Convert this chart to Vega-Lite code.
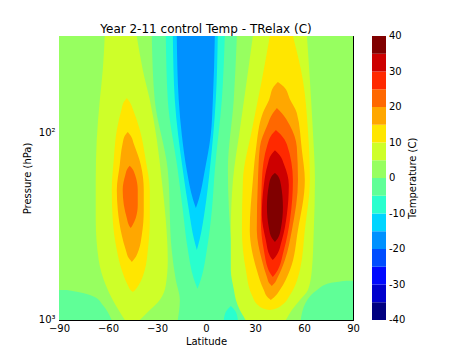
{
"$schema": "https://vega.github.io/schema/vega-lite/v6.json",
"width": 294, "height": 284,
"autosize": {"type": "none"},
"padding": {"left": 59, "top": 36, "right": 121, "bottom": 35},
"title": {"text": "Year 2-11 control Temp - TRelax (C)", "fontSize": 12, "fontWeight": "normal", "font": "DejaVu Sans", "color": "black", "anchor": "middle", "baseline": "alphabetic", "offset": -27},
"datasets": {"c": [
{"g":0,"r":0,"t":2.5,"p":30,"a":-90,"b":90},
{"g":0,"r":0,"t":2.5,"p":1000,"a":-90,"b":90},

{"g":1,"r":1,"t":-2.5,"p":30,"a":-33.2,"b":18.9},
{"g":1,"r":1,"t":-2.5,"p":66,"a":-31.4,"b":17.0},
{"g":1,"r":1,"t":-2.5,"p":157,"a":-23.4,"b":13.4},
{"g":1,"r":1,"t":-2.5,"p":421,"a":-21.0,"b":15.8},
{"g":1,"r":1,"t":-2.5,"p":610,"a":-18.5,"b":17.7},
{"g":1,"r":1,"t":-2.5,"p":781,"a":-16.0,"b":20.7},
{"g":1,"r":1,"t":-2.5,"p":1000,"a":-17.3,"b":23.8},
{"g":1,"r":5,"t":-2.5,"p":690,"a":-90,"b":-85.2},
{"g":1,"r":5,"t":-2.5,"p":716,"a":-90,"b":-75.4},
{"g":1,"r":5,"t":-2.5,"p":752,"a":-90,"b":-68.2},
{"g":1,"r":5,"t":-2.5,"p":831,"a":-90,"b":-63.2},
{"g":1,"r":5,"t":-2.5,"p":1000,"a":-90,"b":-57.7},
{"g":1,"r":6,"t":-2.5,"p":615,"a":86,"b":90},
{"g":1,"r":6,"t":-2.5,"p":633,"a":76,"b":90},
{"g":1,"r":6,"t":-2.5,"p":690,"a":68,"b":90},
{"g":1,"r":6,"t":-2.5,"p":781,"a":62,"b":90},
{"g":1,"r":6,"t":-2.5,"p":1000,"a":58,"b":90},
{"g":1,"r":2,"t":-7.5,"p":30,"a":-24.6,"b":11.5},
{"g":1,"r":2,"t":-7.5,"p":66,"a":-23.4,"b":9.7},
{"g":1,"r":2,"t":-7.5,"p":157,"a":-17.3,"b":5.4},
{"g":1,"r":2,"t":-7.5,"p":257,"a":-14.2,"b":3.6},
{"g":1,"r":2,"t":-7.5,"p":421,"a":-11.1,"b":0.5},
{"g":1,"r":2,"t":-7.5,"p":600,"a":-7.5,"b":-3.0},
{"g":1,"r":2,"t":-7.5,"p":680,"a":-5.2,"b":-5.2},
{"g":1,"r":7,"t":-7.5,"p":840,"a":15.2,"b":15.2},
{"g":1,"r":7,"t":-7.5,"p":906,"a":12.1,"b":18.3},
{"g":1,"r":7,"t":-7.5,"p":1000,"a":10.9,"b":19.5},
{"g":1,"r":3,"t":-12.5,"p":30,"a":-20.3,"b":7.2},
{"g":1,"r":3,"t":-12.5,"p":66,"a":-19.1,"b":6.0},
{"g":1,"r":3,"t":-12.5,"p":157,"a":-14.2,"b":2.3},
{"g":1,"r":3,"t":-12.5,"p":257,"a":-10.5,"b":-0.7},
{"g":1,"r":3,"t":-12.5,"p":370,"a":-7.3,"b":-3.9},
{"g":1,"r":3,"t":-12.5,"p":421,"a":-5.6,"b":-5.6},
{"g":1,"r":4,"t":-17.5,"p":30,"a":-17.9,"b":5.4},
{"g":1,"r":4,"t":-17.5,"p":66,"a":-16.7,"b":4.2},
{"g":1,"r":4,"t":-17.5,"p":102,"a":-14.8,"b":2.9},
{"g":1,"r":4,"t":-17.5,"p":157,"a":-11.8,"b":-0.7},
{"g":1,"r":4,"t":-17.5,"p":225,"a":-8.0,"b":-4.4},
{"g":1,"r":4,"t":-17.5,"p":251,"a":-6.2,"b":-6.2},

{"g":2,"r":10,"t":7.5,"p":30,"a":-62.0,"b":-42.4},
{"g":2,"r":10,"t":7.5,"p":45.6,"a":-63.2,"b":-38.7},
{"g":2,"r":10,"t":7.5,"p":66,"a":-65.0,"b":-34.4},
{"g":2,"r":10,"t":7.5,"p":108,"a":-66.9,"b":-30.1},
{"g":2,"r":10,"t":7.5,"p":178,"a":-67.5,"b":-27.1},
{"g":2,"r":10,"t":7.5,"p":291,"a":-67.5,"b":-24.6},
{"g":2,"r":10,"t":7.5,"p":477,"a":-65.7,"b":-23.4},
{"g":2,"r":10,"t":7.5,"p":649,"a":-61.4,"b":-24.6},
{"g":2,"r":10,"t":7.5,"p":781,"a":-57.1,"b":-28.3},
{"g":2,"r":10,"t":7.5,"p":906,"a":-52.8,"b":-35.6},
{"g":2,"r":10,"t":7.5,"p":1000,"a":-49.7,"b":-40.5},
{"g":2,"r":11,"t":12.5,"p":64.5,"a":-48.5,"b":-48.5},
{"g":2,"r":11,"t":12.5,"p":68,"a":-50.4,"b":-46.6},
{"g":2,"r":11,"t":12.5,"p":74.8,"a":-51.8,"b":-44.6},
{"g":2,"r":11,"t":12.5,"p":95.8,"a":-54.6,"b":-40.5},
{"g":2,"r":11,"t":12.5,"p":139,"a":-56.5,"b":-36.9},
{"g":2,"r":11,"t":12.5,"p":201,"a":-57.7,"b":-34.4},
{"g":2,"r":11,"t":12.5,"p":291,"a":-57.1,"b":-34.4},
{"g":2,"r":11,"t":12.5,"p":421,"a":-54.6,"b":-35.6},
{"g":2,"r":11,"t":12.5,"p":539,"a":-51.6,"b":-37.5},
{"g":2,"r":11,"t":12.5,"p":649,"a":-47.9,"b":-41.2},
{"g":2,"r":11,"t":12.5,"p":690,"a":-46.2,"b":-43.4},
{"g":2,"r":11,"t":12.5,"p":708,"a":-44.8,"b":-44.8},
{"g":2,"r":12,"t":17.5,"p":98,"a":-47.9,"b":-47.9},
{"g":2,"r":12,"t":17.5,"p":103,"a":-49.8,"b":-46.0},
{"g":2,"r":12,"t":17.5,"p":115,"a":-51.2,"b":-44.0},
{"g":2,"r":12,"t":17.5,"p":147.5,"a":-52.8,"b":-39.9},
{"g":2,"r":12,"t":17.5,"p":201,"a":-54.6,"b":-38.1},
{"g":2,"r":12,"t":17.5,"p":257,"a":-54.0,"b":-38.1},
{"g":2,"r":12,"t":17.5,"p":350,"a":-51.6,"b":-39.3},
{"g":2,"r":12,"t":17.5,"p":421,"a":-49.1,"b":-41.2},
{"g":2,"r":12,"t":17.5,"p":470,"a":-47.0,"b":-43.8},
{"g":2,"r":12,"t":17.5,"p":488,"a":-45.4,"b":-45.4},
{"g":2,"r":13,"t":22.5,"p":149,"a":-46.7,"b":-46.7},
{"g":2,"r":13,"t":22.5,"p":155,"a":-48.2,"b":-45.0},
{"g":2,"r":13,"t":22.5,"p":167,"a":-49.4,"b":-43.4},
{"g":2,"r":13,"t":22.5,"p":201,"a":-51.0,"b":-41.8},
{"g":2,"r":13,"t":22.5,"p":242,"a":-50.3,"b":-41.8},
{"g":2,"r":13,"t":22.5,"p":284,"a":-48.5,"b":-43.0},
{"g":2,"r":13,"t":22.5,"p":310,"a":-47.2,"b":-45.0},
{"g":2,"r":13,"t":22.5,"p":321,"a":-46.1,"b":-46.1},

{"g":3,"r":20,"t":7.5,"p":30,"a":28.7,"b":61.8},
{"g":3,"r":20,"t":7.5,"p":51.7,"a":25.0,"b":63.6},
{"g":3,"r":20,"t":7.5,"p":95.8,"a":20.7,"b":65.4},
{"g":3,"r":20,"t":7.5,"p":178,"a":16.5,"b":66.7},
{"g":3,"r":20,"t":7.5,"p":329,"a":15.2,"b":66.0},
{"g":3,"r":20,"t":7.5,"p":539,"a":15.2,"b":64.8},
{"g":3,"r":20,"t":7.5,"p":690,"a":17.1,"b":62.4},
{"g":3,"r":20,"t":7.5,"p":781,"a":18.3,"b":57.5},
{"g":3,"r":20,"t":7.5,"p":884,"a":20.7,"b":52.6},
{"g":3,"r":20,"t":7.5,"p":1000,"a":24.4,"b":48.9},
{"g":3,"r":21,"t":12.5,"p":30,"a":39.1,"b":53.2},
{"g":3,"r":21,"t":12.5,"p":51.7,"a":34.2,"b":59.3},
{"g":3,"r":21,"t":12.5,"p":95.8,"a":28.1,"b":62.4},
{"g":3,"r":21,"t":12.5,"p":178,"a":22.6,"b":63.6},
{"g":3,"r":21,"t":12.5,"p":329,"a":22.0,"b":60.5},
{"g":3,"r":21,"t":12.5,"p":539,"a":24.4,"b":57.5},
{"g":3,"r":21,"t":12.5,"p":734,"a":28.1,"b":51.4},
{"g":3,"r":21,"t":12.5,"p":831,"a":31.8,"b":46.5},
{"g":3,"r":21,"t":12.5,"p":870,"a":35.5,"b":42.5},
{"g":3,"r":21,"t":12.5,"p":884,"a":39.1,"b":39.1},
{"g":3,"r":22,"t":17.5,"p":52.9,"a":44.0,"b":44.0},
{"g":3,"r":22,"t":17.5,"p":56,"a":41.5,"b":47.5},
{"g":3,"r":22,"t":17.5,"p":66.1,"a":38.6,"b":51.6},
{"g":3,"r":22,"t":17.5,"p":77.6,"a":34.8,"b":55.6},
{"g":3,"r":22,"t":17.5,"p":123,"a":30.5,"b":58.7},
{"g":3,"r":22,"t":17.5,"p":178,"a":28.7,"b":60.5},
{"g":3,"r":22,"t":17.5,"p":329,"a":26.8,"b":56.3},
{"g":3,"r":22,"t":17.5,"p":539,"a":31.1,"b":51.4},
{"g":3,"r":22,"t":17.5,"p":690,"a":35.4,"b":45.2},
{"g":3,"r":22,"t":17.5,"p":760,"a":38.0,"b":41.4},
{"g":3,"r":22,"t":17.5,"p":781,"a":39.7,"b":39.7},
{"g":3,"r":23,"t":22.5,"p":73,"a":43.4,"b":43.4},
{"g":3,"r":23,"t":22.5,"p":78,"a":40.8,"b":46.6},
{"g":3,"r":23,"t":22.5,"p":90,"a":37.6,"b":51.2},
{"g":3,"r":23,"t":22.5,"p":118,"a":33.0,"b":55.6},
{"g":3,"r":23,"t":22.5,"p":178,"a":31.8,"b":56.3},
{"g":3,"r":23,"t":22.5,"p":329,"a":31.1,"b":52.6},
{"g":3,"r":23,"t":22.5,"p":477,"a":34.2,"b":48.3},
{"g":3,"r":23,"t":22.5,"p":588,"a":37.3,"b":44.0},
{"g":3,"r":23,"t":22.5,"p":640,"a":39.0,"b":41.6},
{"g":3,"r":23,"t":22.5,"p":657,"a":40.3,"b":40.3},
{"g":3,"r":24,"t":27.5,"p":95.8,"a":42.8,"b":42.8},
{"g":3,"r":24,"t":27.5,"p":101,"a":40.4,"b":45.6},
{"g":3,"r":24,"t":27.5,"p":115,"a":37.6,"b":49.6},
{"g":3,"r":24,"t":27.5,"p":178,"a":34.2,"b":53.2},
{"g":3,"r":24,"t":27.5,"p":291,"a":33.6,"b":51.4},
{"g":3,"r":24,"t":27.5,"p":421,"a":35.4,"b":47.7},
{"g":3,"r":24,"t":27.5,"p":560,"a":39.2,"b":42.8},
{"g":3,"r":24,"t":27.5,"p":588,"a":40.9,"b":40.9},
{"g":3,"r":25,"t":32.5,"p":123,"a":42.2,"b":42.2},
{"g":3,"r":25,"t":32.5,"p":130,"a":39.9,"b":44.9},
{"g":3,"r":25,"t":32.5,"p":147.5,"a":37.7,"b":47.9},
{"g":3,"r":25,"t":32.5,"p":189,"a":35.4,"b":50.7},
{"g":3,"r":25,"t":32.5,"p":273,"a":34.2,"b":49.5},
{"g":3,"r":25,"t":32.5,"p":372,"a":36.6,"b":46.5},
{"g":3,"r":25,"t":32.5,"p":455,"a":39.2,"b":42.8},
{"g":3,"r":25,"t":32.5,"p":477,"a":40.9,"b":40.9},
{"g":3,"r":26,"t":37.5,"p":163,"a":42.2,"b":42.2},
{"g":3,"r":26,"t":37.5,"p":170,"a":40.1,"b":44.3},
{"g":3,"r":26,"t":37.5,"p":189,"a":38.5,"b":45.9},
{"g":3,"r":26,"t":37.5,"p":248,"a":37.3,"b":47.1},
{"g":3,"r":26,"t":37.5,"p":321,"a":38.5,"b":45.9},
{"g":3,"r":26,"t":37.5,"p":365,"a":40.4,"b":44.0},
{"g":3,"r":26,"t":37.5,"p":382,"a":42.2,"b":42.2}
]},
"data": {"name": "c"},
"encoding": {
  "x2": {"field": "b"},
  "detail": {"field": "r", "type": "nominal"},
  "color": {"field": "t", "type": "quantitative",
    "scale": {"type": "threshold", "domain": [-40,-35,-30,-25,-20,-15,-10,-5,0,5,10,15,20,25,30,35,40],
      "range": ["transparent","#000080","#0000cd","#0008ff","#004dff","#0091ff","#00d5ff","#29ffce","#60ff97","#97ff60","#ceff29","#ffe600","#ffa700","#ff6800","#ff2900","#cd0000","#800000","transparent"]},
    "legend": {"orient": "none", "legendX": 313, "legendY": -17.75, "type": "gradient", "direction": "vertical",
      "gradientLength": 319.5, "gradientThickness": 14,
      "labelExpr": "datum.value % 10 == 0 ? datum.label : ''",
      "labelBaseline": "middle", "labelOffset": 3, "labelFontSize": 10, "labelOverlap": false, "labelColor": "black",
      "title": "Temperature (C)", "titleOrient": "right", "titleAnchor": "middle", "titleBaseline": "top",
      "titleFontSize": 10, "titleFontWeight": "normal", "titleColor": "black", "titlePadding": 3,
      "gradientStrokeWidth": 0,
      "encoding": {"title": {"angle": {"value": 270}}}}}
},
"layer": [
  {"transform": [{"filter": "datum.g == 0"}],
   "mark": {"type": "area", "orient": "horizontal", "interpolate": "monotone", "clip": true},
   "encoding": {
     "x": {"field": "a", "type": "quantitative", "scale": {"domain": [-90, 90], "nice": false, "zero": false},
       "axis": {"orient": "bottom", "values": [-90,-60,-30,0,30,60,90], "tickSize": -4, "labelPadding": 7, "labelFlush": false, "labelOverlap": false, "title": "Latitude", "titlePadding": 3}},
     "y": {"field": "p", "type": "quantitative", "scale": {"type": "log", "domain": [30, 1000], "reverse": true, "nice": false, "zero": false},
       "axis": {"orient": "left", "values": [100, 1000], "labelExpr": "datum.value == 100 ? '10²' : '10³'", "labelOffset": -1, "tickSize": -4, "labelPadding": 8, "labelFlush": false, "labelOverlap": false, "title": "Pressure (hPa)", "titlePadding": 6}}
   }},
  {"transform": [{"filter": "datum.g == 1"}],
   "mark": {"type": "area", "orient": "horizontal", "interpolate": "monotone", "clip": true},
   "encoding": {
     "x": {"field": "a", "type": "quantitative", "scale": {"domain": [-90, 90], "nice": false, "zero": false},
       "axis": {"orient": "top", "values": [-90,-60,-30,0,30,60,90], "tickSize": -4, "labels": false, "title": null}},
     "y": {"field": "p", "type": "quantitative", "scale": {"type": "log", "domain": [30, 1000], "reverse": true, "nice": false, "zero": false},
       "axis": {"orient": "left", "values": [30,40,50,60,70,80,90,200,300,400,500,600,700,800,900], "tickSize": -2, "labels": false, "domain": false, "title": null}}
   }},
  {"transform": [{"filter": "datum.g == 2"}],
   "mark": {"type": "area", "orient": "horizontal", "interpolate": "monotone", "clip": true},
   "encoding": {
     "x": {"field": "a", "type": "quantitative", "scale": {"domain": [-90, 90], "nice": false, "zero": false}, "axis": null},
     "y": {"field": "p", "type": "quantitative", "scale": {"type": "log", "domain": [30, 1000], "reverse": true, "nice": false, "zero": false},
       "axis": {"orient": "right", "values": [100, 1000], "tickSize": -4, "labels": false, "title": null}}
   }},
  {"transform": [{"filter": "datum.g == 3"}],
   "mark": {"type": "area", "orient": "horizontal", "interpolate": "monotone", "clip": true},
   "encoding": {
     "x": {"field": "a", "type": "quantitative", "scale": {"domain": [-90, 90], "nice": false, "zero": false}, "axis": null},
     "y": {"field": "p", "type": "quantitative", "scale": {"type": "log", "domain": [30, 1000], "reverse": true, "nice": false, "zero": false},
       "axis": {"orient": "right", "values": [30,40,50,60,70,80,90,200,300,400,500,600,700,800,900], "tickSize": -2, "labels": false, "domain": false, "title": null}}
   }}
],
"resolve": {"axis": {"x": "independent", "y": "independent"}},
"config": {
  "font": "DejaVu Sans",
  "view": {"stroke": null},
  "axis": {"domainColor": "black", "tickColor": "black", "labelColor": "black", "titleColor": "black", "grid": false,
    "labelFontSize": 10, "titleFontSize": 10, "titleFontWeight": "normal", "zindex": 1, "tickWidth": 1, "domainWidth": 1, "labelFont": "DejaVu Sans", "titleFont": "DejaVu Sans"},
  "legend": {"labelFont": "DejaVu Sans", "titleFont": "DejaVu Sans"}
}
}
